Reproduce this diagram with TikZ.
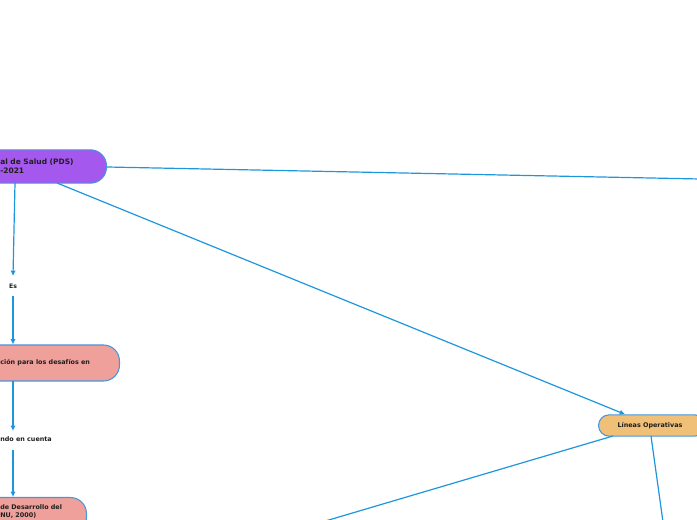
\documentclass[tikz,border=0pt]{standalone}
\usepackage{fontspec}
\setmainfont{DejaVu Sans}
\begin{document}
\begin{tikzpicture}[x=0.75pt,y=-0.75pt,
  conn/.style={draw={rgb,255:red,30;green,150;blue,220},line width=0.9pt,-{Latex[length=4pt,width=4pt]}},
  plain/.style={draw={rgb,255:red,30;green,150;blue,220},line width=0.9pt},
  box/.style={draw={rgb,255:red,70;green,150;blue,220},line width=0.8pt,rounded corners=12pt,inner sep=0pt},
  txt/.style={font=\bfseries\fontsize{5.6}{7}\selectfont,text={rgb,255:red,30;green,30;blue,30},inner sep=0pt,align=left},
  stxt/.style={font=\bfseries\fontsize{4.8}{6}\selectfont,text={rgb,255:red,30;green,30;blue,30},inner sep=0pt,align=left}]
\usetikzlibrary{arrows.meta}
\path[use as bounding box] (0,0) rectangle (697,520);
\clip (0,0) rectangle (697,520);
\definecolor{purp}{RGB}{165,88,238}
\definecolor{pinkc}{RGB}{240,160,155}
\definecolor{orng}{RGB}{240,192,120}
\node[box,fill=purp,minimum width=160pt,minimum height=25pt,anchor=east] (main) at (107,166.5) {};
\node[txt,anchor=west] (mt) at (0,166) {al de Salud (PDS)\\-2021};
\node[stxt,font=\bfseries\fontsize{4.6}{6}\selectfont] (es) at (13,286) {Es};
\node[box,fill=pinkc,minimum width=160pt,minimum height=27pt,anchor=east] (p1) at (120,363) {};
\node[stxt,anchor=west] (p1t) at (0,363) {ción para los desafíos en};
\node[stxt,anchor=west] (cu) at (0,439) {ndo en cuenta};
\node[box,fill=pinkc,minimum width=130pt,minimum height=27pt,anchor=north east] (p2) at (87,497) {};
\node[stxt,anchor=west] (p2t) at (0,512) {de Desarrollo del\\NU, 2000)};
\node[box,fill=orng,minimum width=80pt,minimum height=16pt,rounded corners=8pt,anchor=west] (lo) at (598,425.5) {};
\node[stxt,anchor=center] (lot) at (650,425.5) {Líneas Operativas};
\coordinate (r1) at (700,179);
\coordinate (d1) at (322,522);
\coordinate (d2) at (663,522);
\draw[plain] (107,167) -- (r1);
\draw[conn] (57,183) -- (lo.north -| 625,0);
\draw[conn] (15,183) -- (13,276);
\draw[conn] (13,296) -- (p1.north -| 13,0);
\draw[conn] (13,381) -- (13,431);
\draw[conn] (13,450) -- (p2.north -| 13,0);
\draw[plain] (613,436) -- (d1);
\draw[plain] (651,436) -- (d2);
\end{tikzpicture}
\end{document}
